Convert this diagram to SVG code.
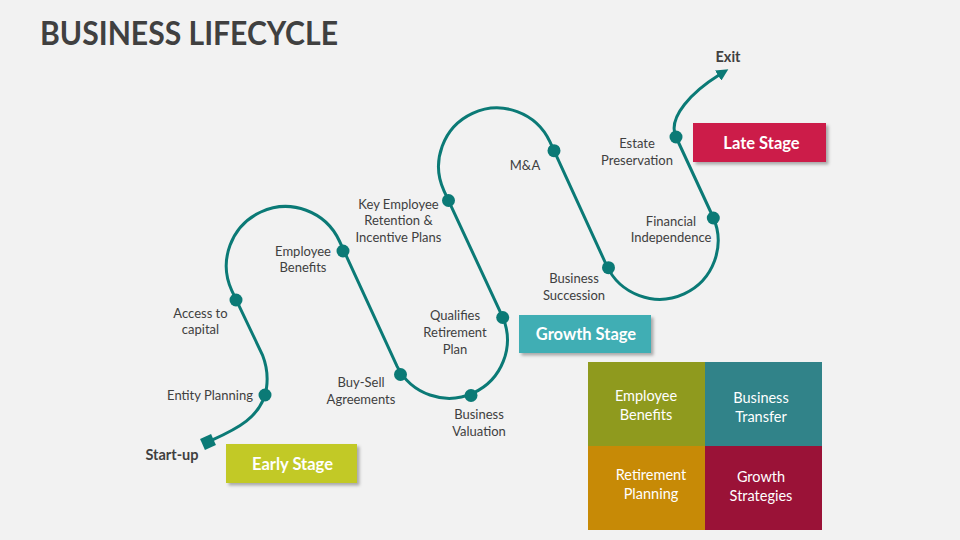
<svg xmlns="http://www.w3.org/2000/svg" width="960" height="540" viewBox="0 0 960 540">
  <defs>
    <style>
      .lbl{font-family:Lato,"Open Sans","Liberation Sans",sans-serif;font-size:13px;fill:#404040;text-anchor:middle}
      .bold{font-family:Lato,"Open Sans","Liberation Sans",sans-serif;font-size:14.5px;font-weight:bold;fill:#404040;text-anchor:middle}
      .stage{font-family:Lato,"Open Sans","Liberation Sans",sans-serif;font-size:16.5px;font-weight:bold;fill:#ffffff;text-anchor:middle}
      .quad{font-family:Lato,"Open Sans","Liberation Sans",sans-serif;font-size:14.5px;fill:#ffffff;text-anchor:middle}
      .path{fill:none;stroke:#0b7a76;stroke-width:3}
      .dot{fill:#0b7a76}
    </style>
    <marker id="arrow" markerUnits="userSpaceOnUse" markerWidth="13" markerHeight="12" refX="1" refY="6" orient="auto">
      <path d="M0,0 L12,6 L0,12 z" fill="#0b7a76"/>
    </marker>
    <filter id="shadow" x="-10%" y="-20%" width="130%" height="150%">
      <feDropShadow dx="2.5" dy="2.5" stdDeviation="1.5" flood-color="#000000" flood-opacity="0.3"/>
    </filter>
  </defs>

  <rect x="0" y="0" width="960" height="540" fill="#f2f2f2"/>

  <text x="40" y="45" font-family="Lato,'Open Sans','Liberation Sans',sans-serif" font-size="32" font-weight="bold" fill="#404040" textLength="298" lengthAdjust="spacingAndGlyphs">BUSINESS LIFECYCLE</text>

  <g id="connectors">
    <path class="path" marker-end="url(#arrow)" d="M 208 442 C 232 431, 262 419, 266.5 388 C 268.5 374, 266 364, 262.5 355 L 231.8 290.6 A 59.2 59.2 0 0 1 339.4 241 L 397.1 366.4 A 58.3 58.3 0 0 0 502.9 317.6 L 444 190.85 A 58.35 58.35 0 0 1 550 141.85 L 606.5 265.25 A 58.45 58.45 0 0 0 712.7 216.25 L 676 137 C 666.8 117, 693.5 90.9, 719 75"/>
    <rect x="202" y="436" width="12" height="12" fill="#0b7a76" transform="rotate(-24 208 442)"/>
  </g>

  <g id="start"><text class="bold" x="172" y="460">Start-up</text></g>
  <g id="exit"><text class="bold" x="728" y="62">Exit</text></g>

  <g id="entity-planning">
    <circle class="dot" cx="265" cy="395" r="6.5"/>
    <text class="lbl" x="210" y="399.5">Entity Planning</text>
  </g>
  <g id="access-to-capital">
    <circle class="dot" cx="236" cy="300" r="6.5"/>
    <text class="lbl" x="200.5" y="317.5">Access to</text>
    <text class="lbl" x="200.5" y="334">capital</text>
  </g>
  <g id="employee-benefits">
    <circle class="dot" cx="343" cy="251" r="6.5"/>
    <text class="lbl" x="303" y="255.5">Employee</text>
    <text class="lbl" x="303" y="272">Benefits</text>
  </g>
  <g id="buy-sell">
    <circle class="dot" cx="400.5" cy="374.5" r="6.5"/>
    <text class="lbl" x="361" y="387">Buy-Sell</text>
    <text class="lbl" x="361" y="404">Agreements</text>
  </g>
  <g id="business-valuation">
    <circle class="dot" cx="471" cy="395.5" r="6.5"/>
    <text class="lbl" x="479" y="418.5">Business</text>
    <text class="lbl" x="479" y="435.5">Valuation</text>
  </g>
  <g id="qualifies-retirement">
    <circle class="dot" cx="502.7" cy="317.5" r="6.5"/>
    <text class="lbl" x="455" y="319.5">Qualifies</text>
    <text class="lbl" x="455" y="336.5">Retirement</text>
    <text class="lbl" x="455" y="353.5">Plan</text>
  </g>
  <g id="key-employee">
    <circle class="dot" cx="448.5" cy="200.5" r="6.5"/>
    <text class="lbl" x="398.5" y="208.5">Key Employee</text>
    <text class="lbl" x="398.5" y="225">Retention &amp;</text>
    <text class="lbl" x="398.5" y="241.5">Incentive Plans</text>
  </g>
  <g id="m-and-a">
    <circle class="dot" cx="554" cy="150.7" r="6.5"/>
    <text class="lbl" x="525" y="170">M&amp;A</text>
  </g>
  <g id="business-succession">
    <circle class="dot" cx="608.5" cy="267.7" r="6.5"/>
    <text class="lbl" x="574" y="282.5">Business</text>
    <text class="lbl" x="574" y="299.5">Succession</text>
  </g>
  <g id="financial-independence">
    <circle class="dot" cx="713.3" cy="218" r="6.5"/>
    <text class="lbl" x="671" y="225.5">Financial</text>
    <text class="lbl" x="671" y="242">Independence</text>
  </g>
  <g id="estate-preservation">
    <circle class="dot" cx="676" cy="137" r="6.5"/>
    <text class="lbl" x="637" y="147.5">Estate</text>
    <text class="lbl" x="637" y="164.5">Preservation</text>
  </g>

  <g id="early-stage">
    <rect x="226" y="444" width="131" height="39" fill="#c2c928" filter="url(#shadow)"/>
    <text class="stage" x="292.5" y="469.5">Early Stage</text>
  </g>
  <g id="growth-stage">
    <rect x="519" y="315" width="132" height="38" fill="#41aeb4" filter="url(#shadow)"/>
    <text class="stage" x="586" y="340">Growth Stage</text>
  </g>
  <g id="late-stage">
    <rect x="693" y="123" width="133" height="39" fill="#cc1a48" filter="url(#shadow)"/>
    <text class="stage" x="761.5" y="148.5">Late Stage</text>
  </g>

  <g id="quadrant-employee-benefits">
    <rect x="588" y="362" width="117" height="84" fill="#8f9a1e"/>
    <text class="quad" x="646" y="401">Employee</text>
    <text class="quad" x="646" y="420">Benefits</text>
  </g>
  <g id="quadrant-business-transfer">
    <rect x="705" y="362" width="117" height="84" fill="#318389"/>
    <text class="quad" x="761" y="403">Business</text>
    <text class="quad" x="761" y="422">Transfer</text>
  </g>
  <g id="quadrant-retirement-planning">
    <rect x="588" y="446" width="117" height="84" fill="#c78a06"/>
    <text class="quad" x="651" y="480">Retirement</text>
    <text class="quad" x="651" y="499">Planning</text>
  </g>
  <g id="quadrant-growth-strategies">
    <rect x="705" y="446" width="117" height="84" fill="#9a1237"/>
    <text class="quad" x="761" y="482">Growth</text>
    <text class="quad" x="761" y="501">Strategies</text>
  </g>
</svg>
